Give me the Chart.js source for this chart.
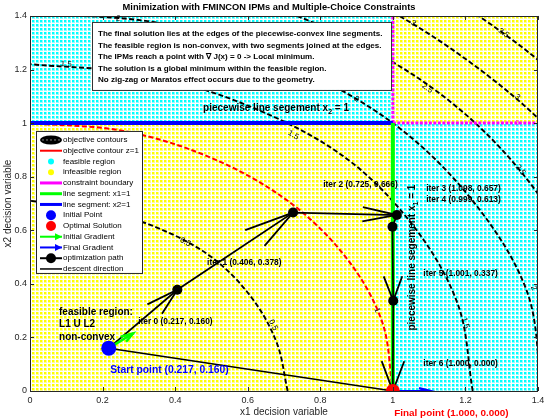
<!DOCTYPE html>
<html>
<head>
<meta charset="utf-8">
<script src="https://cdn.jsdelivr.net/npm/chart.js@4.4.0/dist/chart.umd.min.js"></script>
<style>
    html, body { margin: 0; padding: 0; background: #fff; }
</style>
</head>
<body>
<canvas id="myChart" width="550" height="419"></canvas>
<script>

var xTicks = [0, 0.2, 0.4, 0.6, 0.8, 1, 1.2, 1.4];
var yTicks = [0, 0.2, 0.4, 0.6, 0.8, 1, 1.2, 1.4];

// feasible / infeasible cells (x0, x1, y0, y1)
var regionX0 = [0, 1, 0, 1];
var regionX1 = [1, 1.4, 1, 1.4];
var regionY0 = [0, 0, 1, 1];
var regionY1 = [1, 1, 1.4, 1.4];
var regionFeasible = [false, true, true, false];

// objective contours, points
var contour05 = [[0.71, 0], [0.68, 0.18], [0.61, 0.35], [0.50, 0.50], [0.35, 0.61], [0.18, 0.68], [0, 0.71]];
var contour1 = [[1, 0], [0.97, 0.26], [0.87, 0.50], [0.71, 0.71], [0.50, 0.87], [0.26, 0.97], [0, 1]];
var contour15 = [[1.22, 0], [1.18, 0.32], [1.06, 0.61], [0.87, 0.87], [0.61, 1.06], [0.32, 1.18], [0, 1.22]];
var contour2 = [[1.41, 0], [1.37, 0.37], [1.22, 0.71], [1.00, 1.00], [0.71, 1.22], [0.37, 1.37], [0, 1.41]];
var contour25 = [[1.58, 0], [1.53, 0.41], [1.37, 0.79], [1.12, 1.12], [0.79, 1.37], [0.41, 1.53], [0, 1.58]];
var contour3 = [[1.73, 0], [1.67, 0.45], [1.50, 0.87], [1.22, 1.22], [0.87, 1.50], [0.45, 1.67], [0, 1.73]];
var contour35 = [[1.87, 0], [1.81, 0.48], [1.62, 0.94], [1.32, 1.32], [0.94, 1.62], [0.48, 1.81], [0, 1.87]];

var contourLabels = [
    [0.10, 1.22, '1.5'], [0.243, 1.39, '2'], [0.90, 1.09, '2'], [0.726, 0.955, '1.5'],
    [1.095, 1.13, '2.5'], [1.057, 1.373, '3'], [1.305, 1.336, '3.5'], [1.343, 1.097, '3'],
    [1.352, 0.825, '2.5'], [1.388, 0.384, '2'], [1.20, 0.254, '1.5'], [0.957, 0.302, '1'],
    [0.67, 0.246, '0.5'], [0.428, 0.556, '0.5']
];

var segX1 = [[1, 0], [1, 1]];
var segX2 = [[0, 1], [1, 1]];
var boundaryH = [[1, 1], [1.4, 1]];
var boundaryV = [[1, 1], [1, 1.4]];

var pathX = [0.217, 0.406, 0.725, 1.011, 0.999, 1.001, 1.000];
var pathY = [0.160, 0.378, 0.666, 0.657, 0.613, 0.337, 0.000];
var iterLabels = ['iter 0 (0.217, 0.160)', 'iter 1 (0.406, 0.378)', 'iter 2 (0.725, 0.666)',
    'iter 3 (1.098, 0.657)', 'iter 4 (0.999, 0.613)', 'iter 5 (1.001, 0.337)', 'iter 6 (1.000, 0.000)'];
var iterLabelX = [0.298, 0.488, 0.808, 1.092, 1.092, 1.084, 1.084];
var iterLabelY = [0.257, 0.478, 0.769, 0.757, 0.713, 0.437, 0.101];

var startPoint = [0.217, 0.160];
var finalPoint = [1.000, 0.000];
var initGradEnd = [0.284, 0.215];
var finalGradEnd = [1.103, 0.000];

var boxLines = [
    'The final solution lies at the edges of the piecewise-convex line segments.',
    'The feasible region is non-convex, with two segments joined at the edges.',
    'The IPMs reach a point with \u2207 J(x) = 0 -> Local minimum.',
    'The solution is a global minimum within the feasible region.',
    'No zig-zag or Maratos effect occurs due to the geometry.'
];
var legendNames = ['objective contours', 'objective contour z=1', 'feasible region', 'infeasible region',
    'constraint boundary', 'line segment: x1=1', 'line segment: x2=1', 'Initial Point', 'Optimal Solution',
    'Initial Gradient', 'Final Gradient', 'optimization path', 'descent direction'];

var FONT = "'Liberation Sans', Arial, Helvetica, sans-serif";
var ctxMain = document.getElementById('myChart').getContext('2d');

function dotPattern(color) {
    var tile = document.createElement('canvas');
    tile.width = 4;
    tile.height = 4;
    var g = tile.getContext('2d');
    g.fillStyle = color;
    g.fillRect(0, 0, 2, 2);
    g.globalAlpha = 0.45;
    g.fillRect(2, 0, 1, 3);
    g.fillRect(0, 2, 2, 1);
    return ctxMain.createPattern(tile, 'repeat');
}
var cyanPat = dotPattern('#00ffff');
var yellowPat = dotPattern('#ffff00');

function pts(list) {
    return list.map(function (p) { return { x: p[0], y: p[1] }; });
}

// quiver style arrow head (tip at x1,y1)
function headPoints(x0, y0, x1, y1, size, width) {
    var u = x1 - x0, v = y1 - y0;
    return [
        { x: x1 - size * (u + width * v), y: y1 - size * (v - width * u) },
        { x: x1, y: y1 },
        { x: x1 - size * (u - width * v), y: y1 - size * (v + width * u) }
    ];
}

var datasets = [];

for (var i = 0; i < regionX0.length; i++) {
    datasets.push({
        data: [{ x: regionX0[i], y: regionY1[i] }, { x: regionX1[i], y: regionY1[i] }],
        borderColor: 'rgba(0,0,0,0)',
        borderWidth: 0,
        backgroundColor: regionFeasible[i] ? cyanPat : yellowPat,
        fill: { value: regionY0[i] },
        pointRadius: 0,
        order: 20
    });
}

[contour05, contour15, contour2, contour25, contour3, contour35].forEach(function (c) {
    datasets.push({
        data: pts(c),
        borderColor: '#000',
        borderWidth: 1.9,
        borderDash: [5, 2.5],
        tension: 0.34,
        fill: false,
        pointRadius: 0,
        order: 15
    });
});

datasets.push({
    data: pts(contour1),
    borderColor: '#ff0000',
    borderWidth: 2,
    borderDash: [5, 2.5],
    tension: 0.34,
    fill: false,
    pointRadius: 0,
    order: 14
});

[boundaryH, boundaryV].forEach(function (b) {
    datasets.push({
        data: pts(b),
        borderColor: '#ff00ff',
        borderWidth: 3,
        borderDash: [3, 1.5],
        fill: false,
        pointRadius: 0,
        order: 12
    });
});

datasets.push({ data: pts(segX1), borderColor: '#00ff00', borderWidth: 4, fill: false, pointRadius: 0, order: 11 });
datasets.push({ data: pts(segX2), borderColor: '#0000ff', borderWidth: 4, fill: false, pointRadius: 0, order: 11 });

// descent direction: start -> final
datasets.push({
    data: pts([startPoint, finalPoint]),
    borderColor: '#000',
    borderWidth: 1.5,
    fill: false,
    pointRadius: 0,
    order: 9
});

var pathData = pathX.map(function (v, k) { return { x: v, y: pathY[k] }; });
datasets.push({
    data: pathData,
    borderColor: '#000',
    borderWidth: 1.8,
    fill: false,
    pointRadius: function (c) { return (c.dataIndex === 0 || c.dataIndex === pathX.length - 1) ? 0 : 5; },
    pointBackgroundColor: '#000',
    pointBorderWidth: 0,
    order: 8
});

for (var k = 1; k < pathX.length; k++) {
    datasets.push({
        data: headPoints(pathX[k - 1], pathY[k - 1], pathX[k], pathY[k], 0.33, 0.28),
        borderColor: '#000',
        borderWidth: 1.8,
        fill: false,
        pointRadius: 0,
        order: 7
    });
}

// gradients
datasets.push({ data: pts([startPoint, initGradEnd]), borderColor: '#00ff00', borderWidth: 2.5, fill: false, pointRadius: 0, order: 6 });
datasets.push({ data: headPoints(startPoint[0], startPoint[1], initGradEnd[0], initGradEnd[1], 0.4, 0.35), borderColor: '#00ff00', borderWidth: 2.5, fill: false, pointRadius: 0, order: 6 });
datasets.push({ data: pts([finalPoint, finalGradEnd]), borderColor: '#0000ff', borderWidth: 2, fill: false, pointRadius: 0, order: 6 });
datasets.push({ data: headPoints(finalPoint[0], finalPoint[1], finalGradEnd[0], finalGradEnd[1], 0.3, 0.35), borderColor: '#0000ff', borderWidth: 2.5, fill: false, pointRadius: 0, order: 6 });

datasets.push({ data: pts([startPoint]), showLine: false, pointRadius: 7.5, pointBackgroundColor: '#0000ff', pointBorderWidth: 0, order: 2 });
datasets.push({ data: pts([finalPoint]), showLine: false, pointRadius: 7, pointBackgroundColor: '#ff0000', pointBorderWidth: 0, order: 2 });

function txt(c, s, x, y, size, weight, color, align) {
    c.font = (weight || 'normal') + ' ' + size + 'px ' + FONT;
    c.fillStyle = color || '#000';
    c.textAlign = align || 'left';
    c.textBaseline = 'middle';
    c.fillText(s, x, y);
}

// text with x_n subscript
function subText(c, pre, sub, post, x, y, size, color) {
    c.font = 'bold ' + size + 'px ' + FONT;
    c.fillStyle = color;
    c.textAlign = 'left';
    c.textBaseline = 'middle';
    var w1 = c.measureText(pre).width;
    c.fillText(pre, x, y);
    c.font = 'bold ' + (size * 0.7) + 'px ' + FONT;
    var w2 = c.measureText(sub).width;
    c.fillText(sub, x + w1, y + size * 0.35);
    c.font = 'bold ' + size + 'px ' + FONT;
    c.fillText(post, x + w1 + w2, y);
    return w1 + w2 + c.measureText(post).width;
}

var overlay = {
    id: 'overlay',
    afterDatasetsDraw: function (chart) {
        var c = chart.ctx, a = chart.chartArea;
        var xs = chart.scales.x, ys = chart.scales.y;
        var px = function (v) { return xs.getPixelForValue(v); };
        var py = function (v) { return ys.getPixelForValue(v); };
        c.save();

        // box + inward ticks
        c.strokeStyle = '#262626';
        c.lineWidth = 1;
        c.strokeRect(Math.round(a.left) + 0.5, Math.round(a.top) + 0.5, Math.round(a.right - a.left) - 1, Math.round(a.bottom - a.top));
        c.beginPath();
        xTicks.forEach(function (t) {
            var X = Math.round(px(t)) + 0.5;
            c.moveTo(X, a.bottom); c.lineTo(X, a.bottom - 4);
            c.moveTo(X, a.top); c.lineTo(X, a.top + 4);
        });
        yTicks.forEach(function (t) {
            var Y = Math.round(py(t)) + 0.5;
            c.moveTo(a.left, Y); c.lineTo(a.left + 4, Y);
            c.moveTo(a.right, Y); c.lineTo(a.right - 4, Y);
        });
        c.stroke();

        // contour labels along the curves
        var sx = px(1) - px(0), sy = py(0) - py(1);
        contourLabels.forEach(function (l) {
            var ang = Math.atan2(-l[0] * sy, -l[1] * sx);
            if (ang > Math.PI / 2) ang -= Math.PI;
            if (ang < -Math.PI / 2) ang += Math.PI;
            c.save();
            c.translate(px(l[0]), py(l[1]));
            c.rotate(ang);
            txt(c, l[2], 0, 0, 8, 'normal', '#000', 'center');
            c.restore();
        });
        txt(c, '0', px(1.343), py(1.0), 8, 'normal', '#ff00ff', 'center');

        // iteration labels
        iterLabels.forEach(function (s, n) {
            txt(c, s, px(iterLabelX[n]), py(iterLabelY[n]), 8.4, 'bold', '#000', 'left');
        });

        txt(c, 'feasible region:', px(0.08), py(0.295), 10, 'bold', '#000');
        txt(c, 'L1 U L2', px(0.08), py(0.295) + 12.5, 10, 'bold', '#000');
        txt(c, 'non-convex', px(0.08), py(0.295) + 25, 10, 'bold', '#000');

        txt(c, 'Start point (0.217, 0.160)', px(0.221), py(0.078), 10.3, 'bold', '#0000ff');
        txt(c, 'Final point (1.000, 0.000)', px(1.004), py(-0.082), 9.9, 'bold', '#ff0000');

        subText(c, 'piecewise line segement x', '2', ' = 1', px(0.477), py(1.056), 10, '#000');

        c.save();
        c.translate(px(1.054), py(0.5));
        c.rotate(-Math.PI / 2);
        c.font = 'bold 10px ' + FONT;
        var wTot = c.measureText('piecewise line segement x = 1').width + 5;
        subText(c, 'piecewise line segement x', '1', ' = 1', -wTot / 2, 0, 10, '#000');
        c.restore();

        c.restore();
    },
    afterDraw: function (chart) {
        var c = chart.ctx, a = chart.chartArea;
        c.save();

        // text box
        var bx = a.left + 62, by = a.top + 6;
        c.fillStyle = '#fff';
        c.fillRect(bx, by, 299, 68);
        c.strokeStyle = '#333';
        c.lineWidth = 1;
        c.strokeRect(bx + 0.5, by + 0.5, 299, 68);
        boxLines.forEach(function (s, n) {
            txt(c, s, bx + 6, by + 12 + n * 11.5, 8.05, 'bold', '#000');
        });

        // legend
        var lx = a.left + 6, ly = a.top + 115;
        c.fillStyle = '#fff';
        c.fillRect(lx, ly, 106, 142);
        c.strokeStyle = '#262626';
        c.strokeRect(lx + 0.5, ly + 0.5, 106, 142);
        var x0 = lx + 4, x1 = lx + 26, xm = lx + 15;
        function seg(y, color, w) {
            c.strokeStyle = color; c.lineWidth = w; c.setLineDash([]);
            c.beginPath(); c.moveTo(x0, y); c.lineTo(x1, y); c.stroke();
        }
        function dot(y, color, r) {
            c.fillStyle = color; c.beginPath(); c.arc(xm, y, r, 0, Math.PI * 2); c.fill();
        }
        function arrow(y, color) {
            seg(y, color, 2);
            c.fillStyle = color;
            c.beginPath(); c.moveTo(x1, y); c.lineTo(x1 - 7, y - 3.5); c.lineTo(x1 - 7, y + 3.5); c.closePath(); c.fill();
        }
        legendNames.forEach(function (s, n) {
            var y = ly + 9 + n * 10.75;
            switch (n) {
                case 0:
                    c.fillStyle = '#000';
                    c.beginPath(); c.ellipse(xm, y, 11, 4.5, 0, 0, Math.PI * 2); c.fill();
                    c.strokeStyle = '#888'; c.lineWidth = 1; c.setLineDash([2, 2]);
                    c.beginPath(); c.moveTo(x0 + 2, y); c.lineTo(x1 - 2, y); c.stroke();
                    c.setLineDash([]);
                    break;
                case 1: seg(y, '#ff0000', 2); break;
                case 2: dot(y, '#00ffff', 3); break;
                case 3: dot(y, '#ffff00', 3); break;
                case 4: seg(y, '#ff00ff', 3); break;
                case 5: seg(y, '#00ff00', 3); break;
                case 6: seg(y, '#0000ff', 3); break;
                case 7: dot(y, '#0000ff', 5); break;
                case 8: dot(y, '#ff0000', 5); break;
                case 9: arrow(y, '#00ff00'); break;
                case 10: arrow(y, '#0000ff'); break;
                case 11: seg(y, '#000', 2); dot(y, '#000', 5); break;
                case 12: seg(y, '#000', 1.5); break;
            }
            txt(c, s, lx + 27, y, 8, 'normal', '#000');
        });

        c.restore();
    }
};

var myChart = new Chart(ctxMain, {
    type: 'line',
    data: { datasets: datasets },
    options: {
        responsive: false,
        animation: false,
        events: [],
        layout: { padding: { top: 0, right: 12, left: 0, bottom: 0 } },
        elements: { point: { radius: 0 }, line: { capBezierPoints: false } },
        plugins: {
            legend: { display: false },
            tooltip: { enabled: false },
            title: {
                display: true,
                text: 'Minimization with FMINCON IPMs and Multiple-Choice Constraints',
                color: '#000',
                font: { family: FONT, size: 9.3, weight: 'bold' },
                padding: { top: 2, bottom: 2.8 }
            }
        },
        scales: {
            x: {
                type: 'linear',
                min: 0,
                max: 1.4,
                afterBuildTicks: function (s) { s.ticks = xTicks.map(function (v) { return { value: v }; }); },
                afterFit: function (s) { s.height = 28; },
                grid: { display: false, drawTicks: false },
                border: { display: false },
                ticks: {
                    padding: 4,
                    color: '#262626',
                    font: { family: FONT, size: 9 },
                    callback: function (v) { return String(v); }
                },
                title: {
                    display: true,
                    text: 'x1 decision variable',
                    color: '#262626',
                    font: { family: FONT, size: 10 },
                    padding: { top: 0, bottom: 1 }
                }
            },
            y: {
                type: 'linear',
                min: 0,
                max: 1.4,
                afterBuildTicks: function (s) { s.ticks = yTicks.map(function (v) { return { value: v }; }); },
                afterFit: function (s) { s.width = 30; },
                grid: { display: false, drawTicks: false },
                border: { display: false },
                ticks: {
                    padding: 3,
                    color: '#262626',
                    font: { family: FONT, size: 9 },
                    callback: function (v) { return String(v); }
                },
                title: {
                    display: true,
                    text: 'x2 decision variable',
                    color: '#262626',
                    font: { family: FONT, size: 10 },
                    padding: { top: 2, bottom: 0 }
                }
            }
        }
    },
    plugins: [overlay]
});
</script>
</body>
</html>
